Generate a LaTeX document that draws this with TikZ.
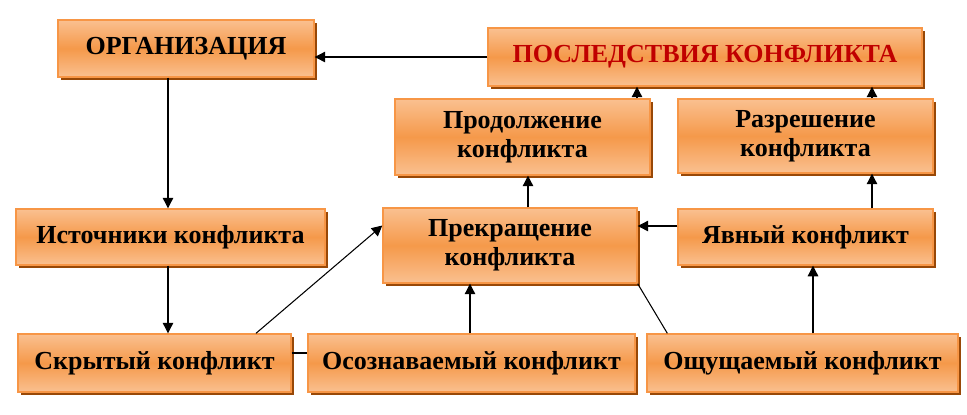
\documentclass[tikz,border=0pt]{standalone}
\usepackage{fontspec}
\setmainfont{Liberation Serif}
\usepackage{tikz}
\usetikzlibrary{calc,arrows.meta,shadows}
\definecolor{boxedge}{RGB}{247,150,70}
\definecolor{boxlight}{RGB}{250,192,144}
\definecolor{boxmid}{RGB}{245,153,74}
\definecolor{boxshade}{RGB}{152,72,7}
\definecolor{headred}{RGB}{192,0,0}

\begin{document}
\begin{tikzpicture}[x=0.02cm,y=-0.02cm,>={Triangle[length=6pt,width=6pt]},
    box/.style={draw=boxedge,line width=0.8pt,top color=boxlight,bottom color=boxlight,
      middle color=boxmid,inner sep=0pt,align=center,
      font=\bfseries\fontsize{14.8}{16.5}\selectfont,
      drop shadow={shadow xshift=0.06cm,shadow yshift=-0.06cm,fill=boxshade,opacity=1}},
    link/.style={line width=0.6pt}]
    \useasboundingbox (0,0) rectangle (967,414);
    \node[box,minimum width=5.12cm,minimum height=1.14cm] (org) at (186,48.5) {ОРГАНИЗАЦИЯ};
    \node[box,minimum width=8.68cm,minimum height=1.16cm,text=headred] (cons) at (705,57) {ПОСЛЕДСТВИЯ КОНФЛИКТА};
    \node[box,minimum width=5.1cm,minimum height=1.52cm] (cont) at (522.5,137) {Продолжение\\конфликта};
    \node[box,minimum width=5.1cm,minimum height=1.48cm] (res) at (805.5,136) {Разрешение\\конфликта};
    \node[box,minimum width=6.18cm,minimum height=1.12cm] (src) at (170.5,237) {Источники конфликта};
    \node[box,minimum width=5.08cm,minimum height=1.5cm] (stop) at (510,245.5) {Прекращение\\конфликта};
    \node[box,minimum width=5.1cm,minimum height=1.12cm] (open) at (805.5,237) {Явный конфликт};
    \node[box,minimum width=5.46cm,minimum height=1.16cm] (hid) at (154.5,363) {Скрытый конфликт};
    \node[box,minimum width=6.54cm,minimum height=1.16cm] (aware) at (471.5,363) {Осознаваемый конфликт};
    \node[box,minimum width=6.22cm,minimum height=1.16cm] (felt) at (802.5,363) {Ощущаемый конфликт};

    \draw[link,->] (cons.west) -- (cons.west -| org.east);
    \draw[link,->] ($(org.south)+(-18,0)$) coordinate (a1) -- (a1 |- src.north);
    \draw[link,->] (a1 |- src.south) -- (a1 |- hid.north);
    \draw[link,->] ($(hid.north)+(101.5,0)$) -- ($(stop.west)+(0,-20)$);
    \draw[link] ($(hid.east)+(0,-10)$) coordinate (a2) -- (a2 -| aware.west);
    \draw[link,->] (aware.north -| stop.south) ++(-40,0) coordinate (a3) -- (a3 |- stop.south);
    \draw[link] ($(felt.north west)+(21,0)$) -- (stop.south east);
    \draw[link,->] ($(felt.north)+(10.5,0)$) coordinate (a4) -- (a4 |- open.south);
    \draw[link,->] ($(open.west)+(0,-11)$) coordinate (a5) -- (a5 -| stop.east);
    \draw[link,->] ($(stop.north)+(18,0)$) coordinate (a6) -- (a6 |- cont.south);
    \draw[link,->] ($(open.north)+(66.5,0)$) coordinate (a7) -- (a7 |- res.south);
    \draw[link,->] (a7 |- res.north) -- (a7 |- cons.south);
    \draw[link,->] ($(cont.north)+(114.5,0)$) coordinate (a8) -- (a8 |- cons.south);
\end{tikzpicture}
\end{document}
